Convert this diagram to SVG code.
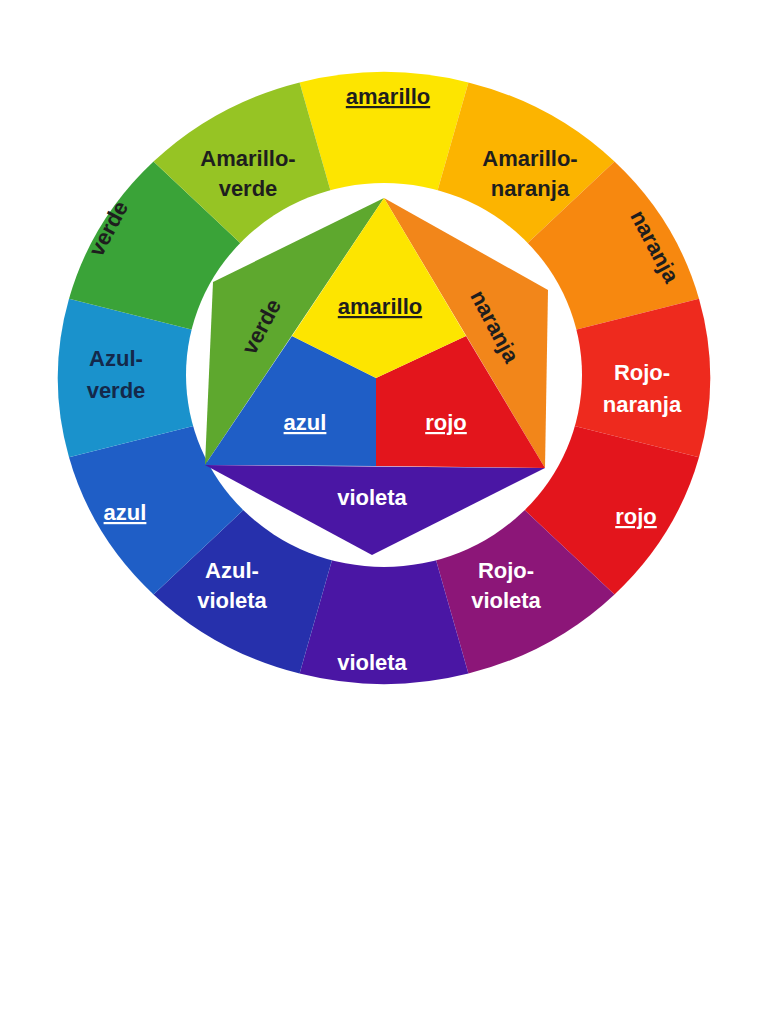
<svg xmlns="http://www.w3.org/2000/svg" width="768" height="1024" viewBox="0 0 768 1024">
<style>
text{font-family:"Liberation Sans",Arial,sans-serif;font-weight:bold;font-size:22px;text-anchor:middle}
.d{fill:#1e1e1e}.w{fill:#fff}.n{fill:#14284a}
</style>
<rect width="768" height="1024" fill="#fff"/>
<g id="outer">
<path id="o-amarillo" d="M384 378 L299.6 82.4 A326 306 0 0 1 468.4 82.4 Z" fill="#fde500"/>
<path id="o-amarillo-naranja" d="M384 378 L468.4 82.4 A326 306 0 0 1 614.5 161.6 Z" fill="#fcb400"/>
<path id="o-naranja" d="M384 378 L614.5 161.6 A326 306 0 0 1 699 298.8 Z" fill="#f7880f"/>
<path id="o-rojo-naranja" d="M384 378 L699 298.8 A326 306 0 0 1 699 457.2 Z" fill="#ee2a1e"/>
<path id="o-rojo" d="M384 378 L699 457.2 A326 306 0 0 1 614.5 594.4 Z" fill="#e3151c"/>
<path id="o-rojo-violeta" d="M384 378 L614.5 594.4 A326 306 0 0 1 468.4 673.6 Z" fill="#8c1678"/>
<path id="o-violeta" d="M384 378 L468.4 673.6 A326 306 0 0 1 299.6 673.6 Z" fill="#4a16a4"/>
<path id="o-azul-violeta" d="M384 378 L299.6 673.6 A326 306 0 0 1 153.5 594.4 Z" fill="#2630ac"/>
<path id="o-azul" d="M384 378 L153.5 594.4 A326 306 0 0 1 69 457.2 Z" fill="#1f5ec6"/>
<path id="o-azul-verde" d="M384 378 L69 457.2 A326 306 0 0 1 69 298.8 Z" fill="#1a92cc"/>
<path id="o-verde" d="M384 378 L69 298.8 A326 306 0 0 1 153.5 161.6 Z" fill="#3aa338"/>
<path id="o-amarillo-verde" d="M384 378 L153.5 161.6 A326 306 0 0 1 299.6 82.4 Z" fill="#96c424"/>
</g>
<ellipse cx="384" cy="375" rx="198" ry="192" fill="#fff"/>
<g id="inner">
<polygon id="i-verde" points="384,198 213,282 205,465" fill="#5ea82e"/>
<polygon id="i-naranja" points="384,198 548,290 545,468" fill="#f2861a"/>
<polygon id="i-azul" points="292,336 376,378 376,466 205,465" fill="#1f5ec6"/>
<polygon id="i-rojo" points="466,336 376,378 376,466 545,468" fill="#e3151c"/>
<polygon id="i-amarillo" points="384,198 292,336 376,378 466,336" fill="#fde500"/>
<polygon id="i-violeta" points="205,465 545,468 372,555" fill="#4a16a4"/>
</g>
<g id="labels">
<text x="388" y="104" class="d" text-decoration="underline">amarillo</text>
<text x="248" y="166" class="d">Amarillo-</text><text x="248" y="196" class="d">verde</text>
<text x="530" y="166" class="d">Amarillo-</text><text x="530" y="196" class="d">naranja</text>
<text transform="translate(115,232) rotate(-62)" class="d">verde</text>
<text transform="translate(648,250) rotate(62)" class="d">naranja</text>
<text x="116" y="366" class="n">Azul-</text><text x="116" y="398" class="n">verde</text>
<text x="642" y="380" class="w">Rojo-</text><text x="642" y="412" class="w">naranja</text>
<text x="125" y="520" class="w" text-decoration="underline">azul</text>
<text x="636" y="524" class="w" text-decoration="underline">rojo</text>
<text x="232" y="578" class="w">Azul-</text><text x="232" y="608" class="w">violeta</text>
<text x="506" y="578" class="w">Rojo-</text><text x="506" y="608" class="w">violeta</text>
<text x="372" y="670" class="w" font-weight="normal">violeta</text>
<text x="380" y="314" class="d" text-decoration="underline">amarillo</text>
<text transform="translate(268,330) rotate(-62)" class="d">verde</text>
<text transform="translate(488,330) rotate(62)" class="d">naranja</text>
<text x="305" y="430" class="w" text-decoration="underline">azul</text>
<text x="446" y="430" class="w" text-decoration="underline">rojo</text>
<text x="372" y="505" class="w" font-weight="normal">violeta</text>
</g>
</svg>
